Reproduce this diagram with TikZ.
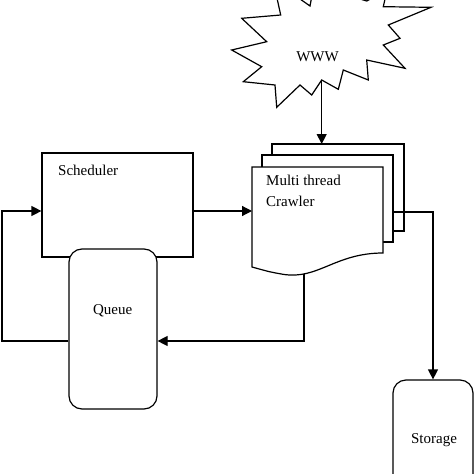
\documentclass[tikz,border=0pt]{standalone}
\usepackage{fontspec}
\setmainfont{Liberation Serif}
\usetikzlibrary{arrows.meta}
\tikzset{%
  box/.style={draw,line width=1.2pt,fill=white,inner sep=0},
  rbox/.style={box,rounded corners=13pt},
  page/.style={draw,line width=1.2pt,fill=white},
  txt/.style={inner sep=0,font=\fontsize{15}{21}\selectfont},
  link/.style={draw,line width=1.2pt},
  arr/.style={link,-{Triangle[length=10pt,width=10pt]}}
}

\begin{document}
\begin{tikzpicture}[x=1pt,y=-1pt]
    \useasboundingbox (0,0) rectangle (474,474);
    \clip (0,0) rectangle (474,474);
    % cloud
    \draw[page] (273,-20) -- (280.7,15) -- (241.7,18.3) -- (266.7,41.7) -- (231.7,50)
      -- (261.7,66.7) -- (243.3,81.7) -- (275,85) -- (276.7,107.3) -- (300,85)
      -- (311.7,95) -- (321.7,80) coordinate (w) -- (338.3,89.3) -- (343.3,70) -- (368.3,80)
      -- (366.7,60) -- (405,68.3) -- (383.3,45) -- (400,38.3) -- (388.3,25)
      -- (431,7.3) -- (383.3,6.7) -- (387,-10) -- (366.7,1) -- (314,-15)
      -- (310,6) -- cycle;
    \node[txt,anchor=base] (wl) at (317.5,61.7) {WWW};
    % crawler pages
    \draw[page] (272,144) rectangle (404,231);
    \draw[page] (262,155) rectangle (393,242);
    \draw[page] (252,167) coordinate (c) -- (383,167) -- (383,253)
      .. controls (335,253) and (318,280) .. (283,274.3)
      .. controls (270,272) .. (252,267) -- cycle;
    \node[txt,anchor=north west,align=left] (cl) at (266,174.7) {Multi thread\\Crawler};
    \path
      (272,144) coordinate (c3)
      (393,212) coordinate (c2)
      (252,211) coordinate (c1)
      (304,274) coordinate (cb);
    % boxes
    \path
      (117.5,205) node (s)[box,minimum width=151pt,minimum height=104pt]{}
      (113,329) node (q)[rbox,minimum width=88pt,minimum height=160pt]{}
      (433,450) node (st)[rbox,minimum width=80pt,minimum height=140pt]{};
    \node[txt,anchor=base west] (sl) at (58,175) {Scheduler};
    \node[txt,anchor=base] (ql) at (112.7,314) {Queue};
    \node[txt,anchor=base] (stl) at (434,443) {Storage};
    % connectors
    \draw[arr] (w) -- (w |- c3);
    \draw[arr] (s.east |- c1) -- (c1);
    \draw[arr] (c2) -| (st.north);
    \draw[arr] (cb) |- (q.east |- 0,341);
    \draw[arr] (q.west |- 0,341) -- (2,341) |- (s.west |- c1);
  \end{tikzpicture}
\end{document}
